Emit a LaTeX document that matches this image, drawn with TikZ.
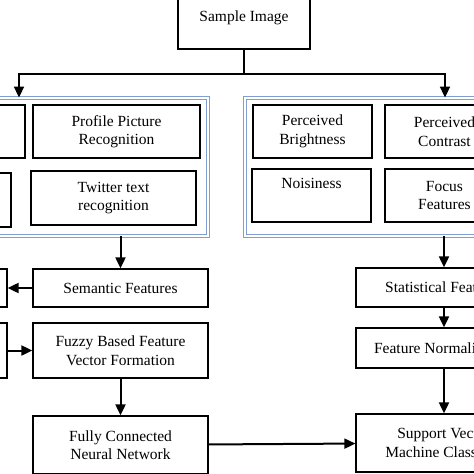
\documentclass[tikz,border=0pt]{standalone}
\usepackage{fontspec}
\setmainfont{Liberation Serif}
\usetikzlibrary{arrows.meta, positioning}
\definecolor{grpblue}{RGB}{128,158,208}

\begin{document}
\begin{tikzpicture}[x=1pt, y=-1pt, font=\fontsize{15.5}{18.5}\selectfont,
        box/.style={draw, line width=1.3pt, inner sep=0pt, align=center},
        grp/.style={draw=grpblue, line width=0.9pt, double=white,
                    double distance=2pt, inner sep=0pt},
        arr/.style={-{Triangle[length=11pt,width=10pt]}, line width=2pt}]
      \path[use as bounding box, clip] (0,0) rectangle (474,474);
      \node[box, minimum width=132pt, minimum height=62pt] (img) at (244,18) {Sample Image};
      % feature groups
      \node[grp, minimum width=378pt, minimum height=138pt] (lgrp) at (19,167) {};
      \node[grp, minimum width=400pt, minimum height=138pt] (rgrp) at (445,167) {};
      \node[box, minimum width=175pt, minimum height=53pt] (lbox1) at (-62.5,131.5) {};
      \node[box, minimum width=167pt, minimum height=53pt] (prof) at (116.5,131.5) {Profile Picture\\Recognition};
      \node[box, minimum width=165pt, minimum height=54pt] (lbox2) at (-71.5,200) {};
      \node[box, minimum width=165pt, minimum height=54pt] (twit) at (113.5,198) {Twitter text\\recognition};
      \node[box, minimum width=119pt, minimum height=53pt] (bright) at (312.5,131.5) {Perceived\\Brightness};
      \node[box, minimum width=119pt, minimum height=53pt] (contr) at (444.5,131.5) {Perceived\\Contrast};
      \node[box, minimum width=119pt, minimum height=53pt] (noise) at (311.5,195.5) {Noisiness\\\strut};
      \node[box, minimum width=119pt, minimum height=53pt] (focus) at (444.5,195.5) {Focus\\Features};
      % left branch
      \node[box, minimum width=175pt, minimum height=38pt] (sem) at (120.5,288) {Semantic Features};
      \node[box, minimum width=175pt, minimum height=38pt] (lbox3) at (-80.5,288) {};
      \node[box, minimum width=175pt, minimum height=55pt] (fuzzy) at (120.5,350.5) {Fuzzy Based Feature\\Vector Formation};
      \node[box, minimum width=175pt, minimum height=55pt] (lbox4) at (-80.5,350.5) {};
      \node[box, minimum width=175pt, minimum height=58pt] (fcnn) at (120.5,445) {Fully Connected\\Neural Network};
      % right branch
      \node[box, minimum width=176pt, minimum height=39pt] (stat) at (444,287.5) {Statistical Features};
      \node[box, minimum width=176pt, minimum height=40pt] (norm) at (444,348) {Feature Normalization};
      \node[box, minimum width=176pt, minimum height=58pt] (svm) at (444,443) {Support Vector\\Machine Classifier};
      % connectors
      \draw[line width=2pt] (img.south) -- ++(0,24) coordinate (split);
      \draw[arr] (split) -| (lgrp.north);
      \draw[arr] (split) -| (rgrp.north);
      \draw[arr] (sem.north |- lgrp.south) -- (sem);
      \draw[arr] (sem) -- (lbox3);
      \draw[arr] (lbox4) -- (fuzzy);
      \draw[arr] (fuzzy) -- (fcnn);
      \draw[arr] (stat.north |- rgrp.south) -- (stat);
      \draw[arr] (stat) -- (norm);
      \draw[arr] (norm) -- (svm);
      \draw[arr] (fcnn) -- (svm);
    \end{tikzpicture}
\end{document}
